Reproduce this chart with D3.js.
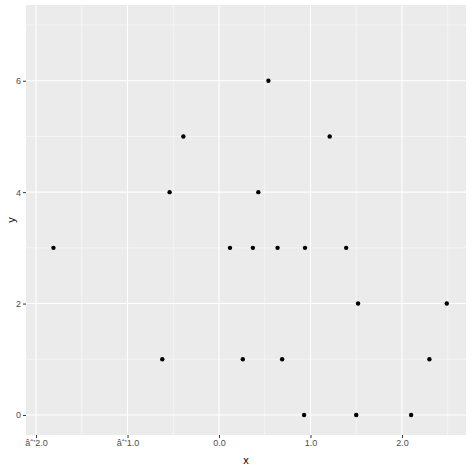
<!DOCTYPE html><html><head><script src="https://cdn.jsdelivr.net/npm/d3@7"></script>
<style>body{margin:0;background:#fff}</style></head><body><svg id="c" width="474" height="473"></svg>
<script>
const xs=[-1.81,-0.62,-0.54,-0.39,0.12,0.26,0.37,0.43,0.54,0.64,0.69,0.93,0.94,1.21,1.39,1.50,1.52,2.10,2.30,2.49];
const ys=[3,1,4,5,3,1,3,4,6,3,1,0,3,5,3,0,2,0,1,2];
const xTicks=[-2,-1,0,1,2];
const yTicks=[0,2,4,6];
const svg=d3.select("#c");
const L=26,R=466,T=5,B=435;
const x=d3.scaleLinear().domain([-2.11,2.70]).range([L,R]);
const y=d3.scaleLinear().domain([-0.36,7.36]).range([B,T]);
svg.append("rect").attr("x",L).attr("y",T).attr("width",R-L).attr("height",B-T).attr("fill","#ebebeb");
const xMinor=xTicks.slice(0,-1).map(v=>v+0.5).concat([xTicks[xTicks.length-1]+0.5]);
const yMinor=yTicks.slice(0,-1).map(v=>v+1).concat([7]);
const g=svg.append("g");
xMinor.filter(v=>x(v)<R).forEach(v=>g.append("line").attr("x1",x(v)).attr("x2",x(v)).attr("y1",T).attr("y2",B).attr("stroke","#fff").attr("stroke-width",0.5));
yMinor.filter(v=>y(v)>T).forEach(v=>g.append("line").attr("y1",y(v)).attr("y2",y(v)).attr("x1",L).attr("x2",R).attr("stroke","#fff").attr("stroke-width",0.5));
xTicks.forEach(v=>g.append("line").attr("x1",x(v)).attr("x2",x(v)).attr("y1",T).attr("y2",B).attr("stroke","#fff").attr("stroke-width",1.1));
yTicks.forEach(v=>g.append("line").attr("y1",y(v)).attr("y2",y(v)).attr("x1",L).attr("x2",R).attr("stroke","#fff").attr("stroke-width",1.1));
const xa=svg.append("g").attr("transform",`translate(0,${B})`).call(d3.axisBottom(x).tickValues(xTicks).tickSize(3).tickPadding(2));
const ya=svg.append("g").attr("transform",`translate(${L},0)`).call(d3.axisLeft(y).tickValues(yTicks).tickSize(3).tickPadding(2));
[xa,ya].forEach(a=>{a.select(".domain").remove();a.selectAll("line").attr("stroke","#333");a.selectAll("text").attr("fill","#4d4d4d").style("font-family","Liberation Sans, Arial").style("font-size","9px");});
svg.selectAll("circle").data(xs).enter().append("circle").attr("cx",d=>x(d)).attr("cy",(d,i)=>y(ys[i])).attr("r",2.2).attr("fill","#000");
svg.append("text").attr("x",(L+R)/2).attr("y",464).attr("text-anchor","middle").style("font-family","Liberation Sans, Arial").style("font-size","11px").text("x");
svg.append("text").attr("transform",`translate(15,${(T+B)/2}) rotate(-90)`).attr("text-anchor","middle").style("font-family","Liberation Sans, Arial").style("font-size","11px").text("y");
</script></body></html>
